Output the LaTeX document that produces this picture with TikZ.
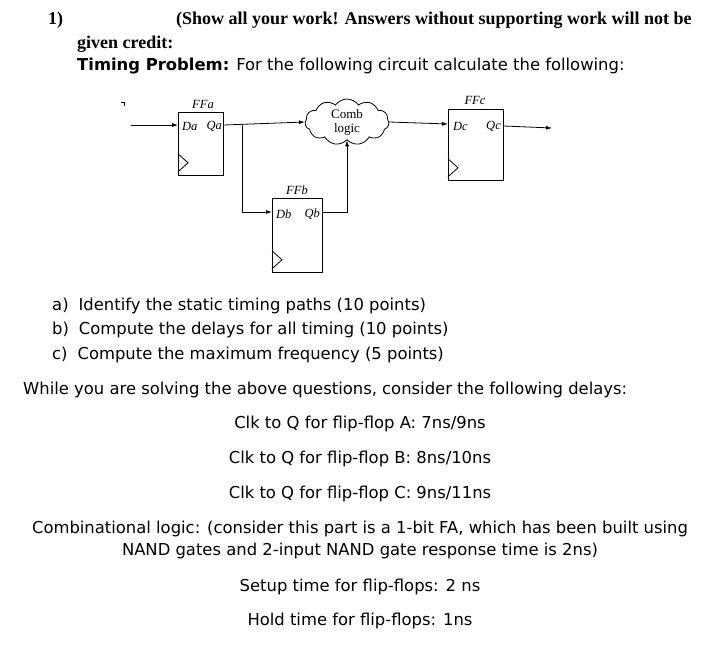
\documentclass[tikz,border=0pt]{standalone}
\usepackage{fontspec}
\setmainfont{DejaVu Sans}
\newfontfamily\timesf{Liberation Serif}
\usetikzlibrary{shapes.symbols,arrows.meta}
\begin{document}
\begin{tikzpicture}[x=1pt,y=-1pt,
  txt/.style={inner sep=0pt,font=\fontsize{16.4}{18}\selectfont},
  ttl/.style={inner sep=0pt,font=\timesf\bfseries\fontsize{18}{20}\selectfont},
  ff/.style={draw,thick,inner sep=0pt},
  ffl/.style={inner sep=0pt,font=\timesf\itshape\fontsize{12.5}{13}\selectfont},
  wire/.style={line width=0.8pt},
  arr/.style={wire,-{Latex[length=6pt,width=4pt]}}]
\useasboundingbox[fill=white] (0,0) rectangle (725,645);
% title lines
\node[ttl,anchor=base west] (t1) at (48,24) {1)};
\node[ttl,anchor=base west] (t2) at (176,24) {(Show all your work! Answers without supporting work will not be};
\node[ttl,anchor=base west] (t3) at (77,48) {given credit:};
\node[txt,anchor=base west] (t4) at (77,70) {\textbf{Timing Problem:} For the following circuit calculate the following:};
% stray mark
\draw[thin] (121,102) -- (124,102) -- (124,106);
% flip-flops
\node[ff,minimum width=45pt,minimum height=63pt,anchor=north west] (ffa) at (178,112) {};
\node[ff,minimum width=50pt,minimum height=74pt,anchor=north west] (ffb) at (272,198) {};
\node[ff,minimum width=55pt,minimum height=71pt,anchor=north west] (ffc) at (448,109) {};
\foreach \f in {ffa,ffb,ffc}{
  \draw[thick] ([yshift=22pt]\f.south west) -- ([xshift=10pt,yshift=13pt]\f.south west) -- ([yshift=4pt]\f.south west);
}
\node[ffl] (la) at (203,104) {FFa};
\node[ffl] (lb) at (297,190) {FFb};
\node[ffl] (lc) at (475,100) {FFc};
\node[ffl,anchor=west] (da) at (182,126) {Da};
\node[ffl,anchor=east] (qa) at (222,126) {Qa};
\node[ffl,anchor=west] (db) at (276,214) {Db};
\node[ffl,anchor=east] (qb) at (320,214) {Qb};
\node[ffl,anchor=west] (dc) at (453,126) {Dc};
\node[ffl,anchor=east] (qc) at (501,126) {Qc};
% cloud
\node[cloud,draw,thick,cloud puffs=11,cloud puff arc=110,aspect=1.9,minimum width=84pt,minimum height=46pt,inner sep=0pt,align=center,font=\timesf\fontsize{13}{14}\selectfont] (cl) at (347,122) {Comb\\logic};
% wires
\coordinate (in) at (131,125);
\coordinate (br) at (242,125);
\coordinate (out) at (552,128);
\draw[arr] (in) -- (ffa.west |- in);
\draw[arr] (ffa.east |- in) -- (cl.west);
\draw[arr] (br) |- (ffb.west |- 0,212);
\draw[arr] (ffb.east |- 0,212) -| (cl.south);
\draw[arr] (cl.east) -- (ffc.west |- 0,124);
\draw[arr] (ffc.east |- 0,126) -- (out);
% questions
\node[txt,anchor=base west] (qa1) at (52,310) {a)\hspace{10pt}Identify the static timing paths (10 points)};
\node[txt,anchor=base west] (qb1) at (52,334) {b)\hspace{10pt}Compute the delays for all timing (10 points)};
\node[txt,anchor=base west] (qc1) at (52,359) {c)\hspace{10pt}Compute the maximum frequency (5 points)};
\node[txt,anchor=base west] (w) at (23,394) {While you are solving the above questions, consider the following delays:};
\node[txt,anchor=base] (c1) at (360,428) {Clk to Q for flip-flop A: 7ns/9ns};
\node[txt,anchor=base] (c2) at (360,463) {Clk to Q for flip-flop B: 8ns/10ns};
\node[txt,anchor=base] (c3) at (360,498) {Clk to Q for flip-flop C: 9ns/11ns};
\node[txt,anchor=base] (cb1) at (360,533) {Combinational logic: (consider this part is a 1-bit FA, which has been built using};
\node[txt,anchor=base] (cb2) at (360,555) {NAND gates and 2-input NAND gate response time is 2ns)};
\node[txt,anchor=base] (s) at (360,591) {Setup time for flip-flops: 2 ns};
\node[txt,anchor=base] (h) at (360,625) {Hold time for flip-flops: 1ns};
\end{tikzpicture}
\end{document}
